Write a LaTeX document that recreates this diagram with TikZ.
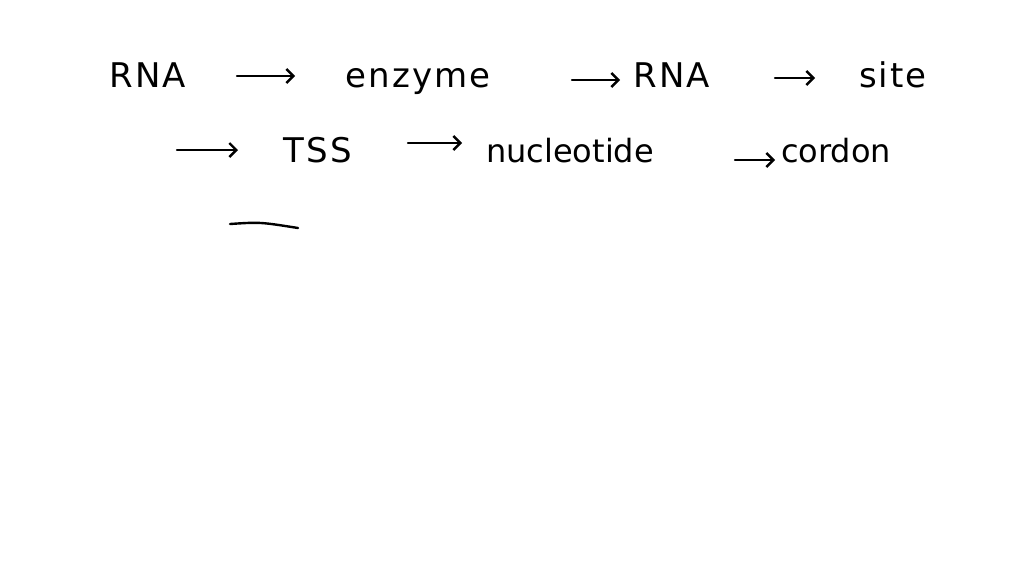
\documentclass[tikz,border=0pt]{standalone}
\usepackage{fontspec}
\setmainfont{DejaVu Sans}
\usetikzlibrary{arrows.meta}
\begin{document}
\begin{tikzpicture}[x=1pt,y=-1pt,
  word/.style={font=\fontsize{34}{40}\selectfont\addfontfeature{LetterSpace=6}, inner sep=0pt, anchor=base},
  tight/.style={font=\fontsize{32}{40}\selectfont\addfontfeature{LetterSpace=0}, inner sep=0pt, anchor=base},
  arr/.style={-{Straight Barb[length=7pt]}, line width=2.4pt, line cap=round}]
\useasboundingbox[fill=white] (0,0) rectangle (1024,576);
\node[word] (r1) at (148,87) {RNA};
\node[word] (e) at (418,87) {enzyme};
\node[word] (r2) at (672,87) {RNA};
\node[word] (s) at (893,87) {site};
\node[word] (t) at (318,162) {TSS};
\node[tight] (n) at (570,162) {nucleotide};
\node[tight] (c) at (836,162) {cordon};
\coordinate (a1s) at (237,76); \coordinate (a1e) at (295,76);
\coordinate (a2s) at (572,80); \coordinate (a2e) at (620,80);
\coordinate (a3s) at (775,78); \coordinate (a3e) at (815,78);
\coordinate (b1s) at (177,150); \coordinate (b1e) at (238,150);
\coordinate (b2s) at (408,143); \coordinate (b2e) at (462,143);
\coordinate (b3s) at (735,160); \coordinate (b3e) at (775,160);
\coordinate (ls) at (230,224); \coordinate (le) at (298,228);
\draw[arr] (a1s) -- (a1e);
\draw[arr] (a2s) -- (a2e);
\draw[arr] (a3s) -- (a3e);
\draw[arr] (b1s) -- (b1e);
\draw[arr] (b2s) -- (b2e);
\draw[arr] (b3s) -- (b3e);
\draw[line width=2.4pt, line cap=round] (ls) .. controls (260,222) .. (le);
\end{tikzpicture}
\end{document}
